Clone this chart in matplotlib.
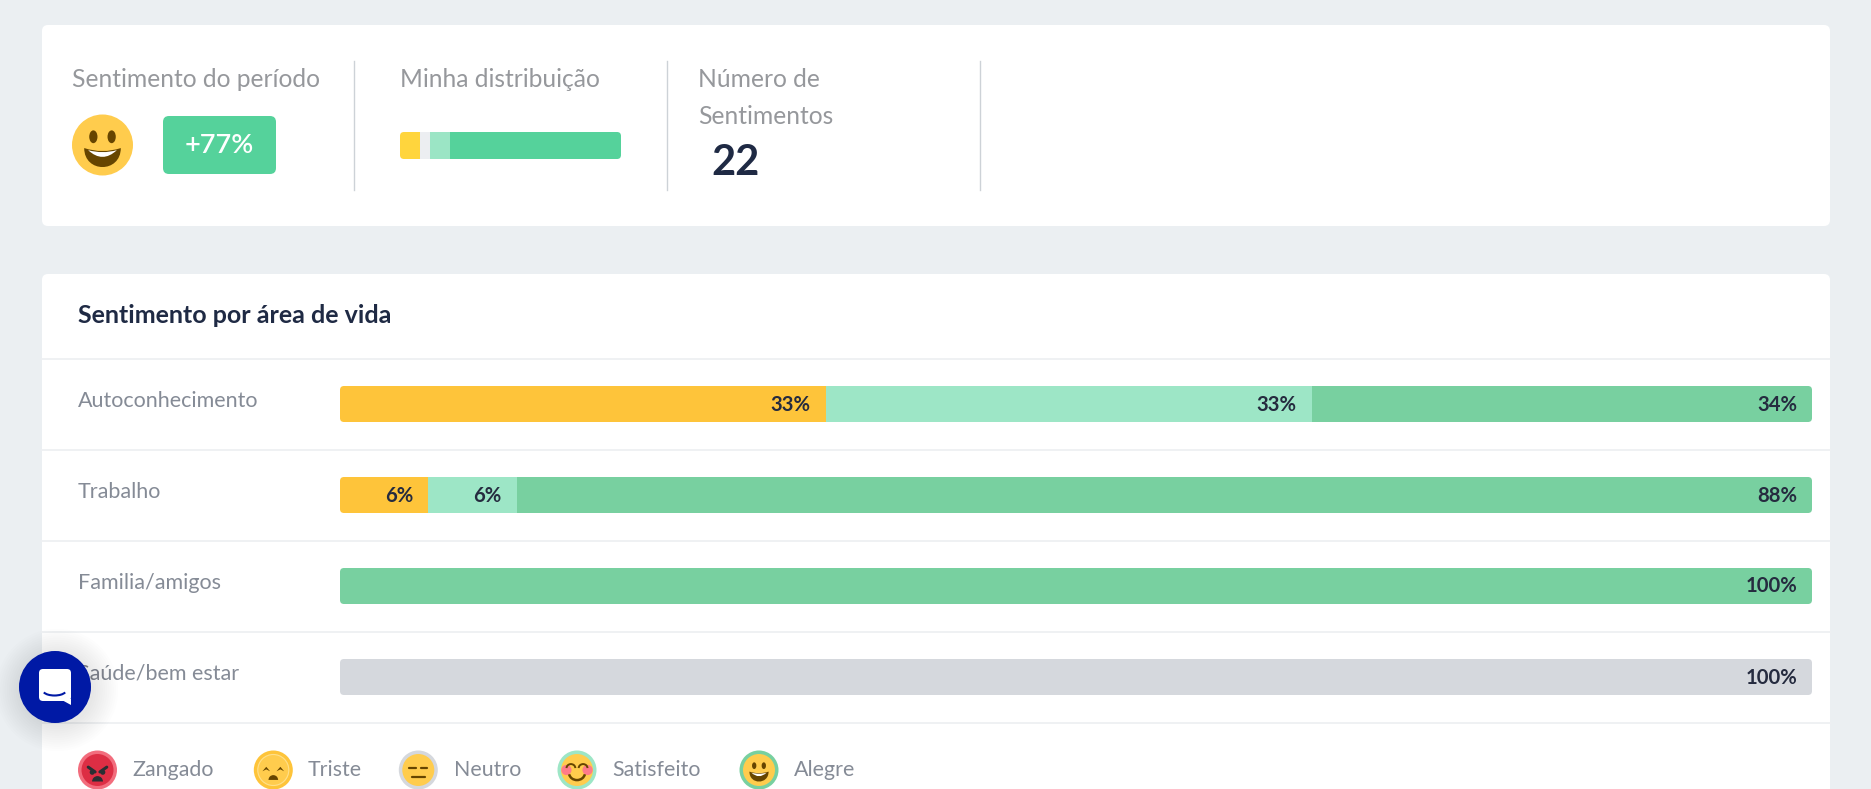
import matplotlib.pyplot as plt
from matplotlib.patches import Arc, Circle, Ellipse, FancyBboxPatch, PathPatch, Polygon, Wedge
from matplotlib.path import Path

# dados
areas = ["Autoconhecimento", "Trabalho", "Familia/amigos", "Saúde/bem estar"]
triste = [33, 6, 0, 0]
neutro = [0, 0, 0, 100]
satisfeito = [33, 6, 0, 0]
alegre = [34, 88, 100, 0]

dist_labels = ["Triste", "Neutro", "Satisfeito", "Alegre"]
dist_values = [9.1, 4.5, 9.1, 77.3]
dist_colors = ["#FFD53D", "#ECEEF1", "#9BE5C5", "#55D29B"]

legend_labels = ["Zangado", "Triste", "Neutro", "Satisfeito", "Alegre"]
sentimento_periodo = "+77%"
num_sentimentos = "22"

W, H = 1871, 789
BG = "#EBEFF2"
DARK = "#1F2A44"
GRAY_TOP = "#96989C"
GRAY_ROW = "#858B96"
FONT = "Lato"

plt.rcParams["font.family"] = FONT

fig = plt.figure(figsize=(W / 100, H / 100), dpi=100, facecolor=BG)
ax = fig.add_axes([0, 0, 1, 1])
ax.set_xlim(0, W)
ax.set_ylim(H, 0)
ax.axis("off")


def card(x0, y0, x1, y1):
    ax.add_patch(FancyBboxPatch((x0 + 6, y0 + 6), x1 - x0 - 12, y1 - y0 - 12,
                                boxstyle="round,pad=6,rounding_size=6",
                                fc="white", ec="none", zorder=1))


def rounded(x0, y0, x1, y1, color, r=6, z=3):
    p = FancyBboxPatch((x0 + r, y0 + r), x1 - x0 - 2 * r, y1 - y0 - 2 * r,
                       boxstyle=f"round,pad={r},rounding_size={r}",
                       fc=color, ec="none", zorder=z)
    ax.add_patch(p)
    return p


def pixel_axes(x0, y0, x1, y1):
    a = fig.add_axes([x0 / W, 1 - y1 / H, (x1 - x0) / W, (y1 - y0) / H])
    a.axis("off")
    return a


# Emojis
def face(cx, cy, r, color, z=5):
    ax.add_patch(Circle((cx, cy), r, fc=color, ec="none", zorder=z))


def mouth_happy(cx, cy, r, z=6):
    def pts(lst):
        return [(cx + a * r, cy + b * r) for a, b in lst]

    mouth = Path(pts([(-0.6, 0.1), (0, 0.3), (0.6, 0.1), (0.6, 0.93), (-0.6, 0.93), (-0.6, 0.1)]),
                 [Path.MOVETO, Path.CURVE3, Path.CURVE3, Path.CURVE4, Path.CURVE4, Path.CURVE4])
    ax.add_patch(PathPatch(mouth, fc="#664500", ec="none", zorder=z))
    teeth = Path(pts([(-0.47, 0.17), (0, 0.3), (0.47, 0.17), (0, 0.61), (-0.47, 0.17)]),
                 [Path.MOVETO, Path.CURVE3, Path.CURVE3, Path.CURVE3, Path.CURVE3])
    ax.add_patch(PathPatch(teeth, fc="white", ec="none", zorder=z + 1))


def emoji_alegre(cx, cy, r, z=5):
    face(cx, cy, r, "#FFCC4D", z)
    for s in (-1, 1):
        ax.add_patch(Ellipse((cx + s * 0.3 * r, cy - 0.27 * r), 0.27 * r, 0.42 * r,
                             fc="#664500", ec="none", zorder=z + 1))
    mouth_happy(cx, cy, r, z + 1)


def emoji_triste(cx, cy, r, z=5):
    face(cx, cy, r, "#FFCC4D", z)
    ax.add_patch(Circle((cx, cy), r - 0.5, fc="none", ec="#FFE08A", lw=0.8, zorder=z))
    for s in (-1, 1):
        ax.add_patch(Polygon([(cx + s * 0.2 * r, cy + 0.08 * r), (cx + s * 0.44 * r, cy - 0.2 * r),
                              (cx + s * 0.68 * r, cy + 0.08 * r), (cx + s * 0.44 * r, cy - 0.04 * r)],
                             fc="#664500", ec="none", zorder=z + 1))
    ax.add_patch(Wedge((cx, cy + 0.62 * r), 0.3 * r, 180, 360, fc="#664500", ec="none", zorder=z + 1))


def emoji_neutro(cx, cy, r, z=5):
    face(cx, cy, r, "#FFCC4D", z)
    for s in (-1, 1):
        ax.plot([cx + s * 0.15 * r, cx + s * 0.55 * r], [cy - 0.1 * r] * 2,
                color="#664500", lw=1.6, zorder=z + 1, solid_capstyle="round")
    ax.plot([cx - 0.42 * r, cx + 0.42 * r], [cy + 0.42 * r] * 2,
            color="#664500", lw=1.6, zorder=z + 1, solid_capstyle="round")


def emoji_satisfeito(cx, cy, r, z=5):
    face(cx, cy, r, "#FFCC4D", z)
    for s in (-1, 1):
        ax.add_patch(Circle((cx + s * 0.66 * r, cy), 0.32 * r, fc="#FF7B89", ec="none", zorder=z + 1))
        ax.add_patch(Arc((cx + s * 0.38 * r, cy - 0.12 * r), 0.55 * r, 0.5 * r, theta1=180, theta2=360,
                         color="#664500", lw=1.4, zorder=z + 2))
    ax.add_patch(Arc((cx, cy + 0.18 * r), 1.0 * r, 0.9 * r, theta1=10, theta2=170,
                     color="#664500", lw=1.8, zorder=z + 2))


def emoji_zangado(cx, cy, r, z=5):
    face(cx, cy, r, "#DD2E44", z)
    for s in (-1, 1):
        ax.plot([cx + s * 0.15 * r, cx + s * 0.58 * r], [cy + 0.12 * r, cy - 0.18 * r],
                color="#292F33", lw=2.2, zorder=z + 1, solid_capstyle="round")
        ax.add_patch(Circle((cx + s * 0.33 * r, cy + 0.14 * r), 0.16 * r, fc="#292F33", ec="none", zorder=z + 1))
    ax.add_patch(Wedge((cx, cy + 0.72 * r), 0.34 * r, 180, 360, fc="#292F33", ec="none", zorder=z + 1))


# Card de cima
card(42, 25, 1830, 226)
ax.text(72, 79, "Sentimento do período", fontsize=17.7, color=GRAY_TOP, va="center", zorder=3)
emoji_alegre(102.5, 145, 30.5)
rounded(163, 116, 276, 174, "#55D29B")
ax.text(219.5, 145, sentimento_periodo, fontsize=19.5, fontweight="semibold", color="white",
        ha="center", va="center", zorder=4)

for x in (354.5, 667.5, 980):
    ax.plot([x, x], [61, 190], color="#CDD2D7", lw=1, zorder=2)

ax.text(400, 79, "Minha distribuição", fontsize=17.7, color=GRAY_TOP, va="center", zorder=3)
clip_mini = rounded(400, 132, 621, 159, "none", r=4)
ax_mini = pixel_axes(400, 132, 621, 159)
ax_mini.set_xlim(0, 100)
ax_mini.set_ylim(-0.5, 0.5)
left = 0
for lab, v, c in zip(dist_labels, dist_values, dist_colors):
    b = ax_mini.barh(0, v, left=left, height=1, color=c, label=lab)
    b[0].set_clip_path(clip_mini)
    left += v

ax.text(698, 79, "Número de", fontsize=17.7, color=GRAY_TOP, va="center", zorder=3)
ax.text(698, 116, "Sentimentos", fontsize=17.7, color=GRAY_TOP, va="center", zorder=3)
ax.text(711, 163, num_sentimentos, fontsize=30, fontweight="bold", color=DARK, va="center", zorder=3)

# Card de baixo
card(42, 274, 1830, H + 30)
ax.text(78, 315, "Sentimento por área de vida", fontsize=18, fontweight="bold", color=DARK, va="center", zorder=3)
row_lines = [359, 450, 541, 632, 723]
for y in row_lines:
    ax.plot([42, 1830], [y, y], color="#EEF0F2", lw=1.3, zorder=2)

bar_top = [386, 477, 568, 659]
bar_h = 36
X0, X1 = 340, 1812
ax_bars = pixel_axes(X0, 386, X1, 695)
ax_bars.set_xlim(0, 100)
ax_bars.set_ylim(309, 0)

series = [(triste, "#FEC43A"), (neutro, "#D5D8DD"), (satisfeito, "#9DE6C6"), (alegre, "#78D0A0")]
lefts = [0] * len(areas)
clips = [rounded(X0, t, X1, t + bar_h, "none", r=4) for t in bar_top]
for values, color in series:
    for i, v in enumerate(values):
        if v == 0:
            continue
        center = bar_top[i] - 386 + bar_h / 2
        bar = ax_bars.barh(center, v, left=lefts[i], height=bar_h, color=color, zorder=3)
        bar[0].set_clip_path(clips[i])
        lefts[i] += v
        xpos = lefts[i] - 15 / (X1 - X0) * 100
        ax_bars.text(xpos, center + 0.5, f"{v}%", ha="right", va="center", fontsize=14.6,
                     fontweight="bold", color="#252B3F", zorder=4)

for lab, t in zip(areas, bar_top):
    ax.text(78, t + 15, lab, fontsize=15.5, color=GRAY_ROW, va="center", zorder=3)

# Legenda
legend_x = [97.5, 273.3, 418.3, 577, 759]
legend_text_x = [132, 308, 454, 612.5, 794]
legend_ring = ["#F26D7D", "#FEC43A", "#D5D8DD", "#9DE6C6", "#78D0A0"]
legend_draw = [emoji_zangado, emoji_triste, emoji_neutro, emoji_satisfeito, emoji_alegre]
for lab, cx, tx, ring, draw in zip(legend_labels, legend_x, legend_text_x, legend_ring, legend_draw):
    face(cx, 770, 19.5, ring, 4)
    draw(cx, 770, 16)
    ax.text(tx, 770, lab, fontsize=15.4, color=GRAY_ROW, va="center", zorder=3)

# Botão do chat
for k in range(12):
    ax.add_patch(Circle((57, 690), 37 + 2.2 * k, fc="black", alpha=0.006, ec="none", zorder=8))
ax.add_patch(Circle((55, 687), 36, fc="#0019A5", ec="none", zorder=9))
rounded(39, 669, 71, 701, "white", r=4, z=10)
ax.add_patch(Polygon([(60, 699), (71, 699), (71, 705)], fc="white", ec="none", zorder=10))
ax.add_patch(Arc((54.5, 690.5), 23, 10, theta1=10, theta2=170, color="#0019A5", lw=1.5, zorder=11))

fig.savefig("out.png", dpi=100, facecolor=BG)
